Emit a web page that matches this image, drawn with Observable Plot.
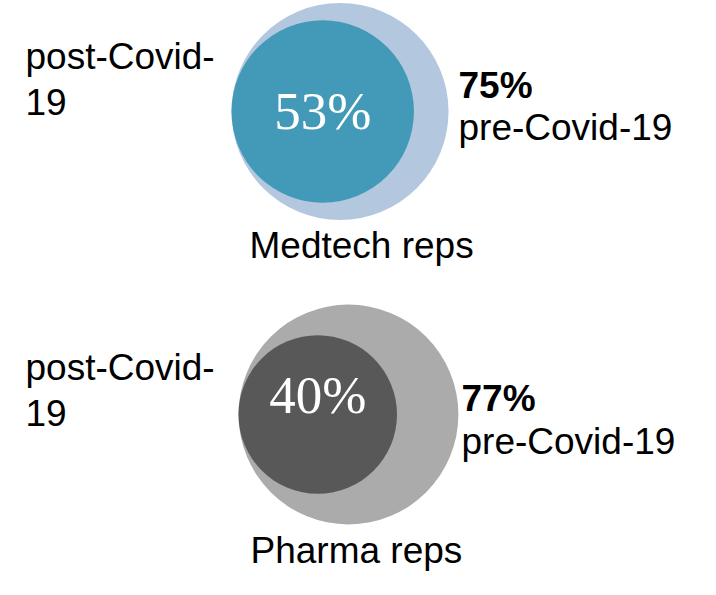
<!DOCTYPE html>
<html>
<head>
<meta charset="utf-8">
<script src="https://cdn.jsdelivr.net/npm/d3@7"></script>
<script src="https://cdn.jsdelivr.net/npm/@observablehq/plot@0.6"></script>
<style>
  html, body { margin: 0; padding: 0; background: #ffffff; }
  #chart svg { display: block; }
</style>
</head>
<body>
<div id="chart"></div>
<script>
// ---- data ----
const groups = ["Medtech reps", "Pharma reps"];
const preCovid = [75, 77];
const postCovid = [53, 40];
const preLabel = "pre-Covid-19";
const postLabel = "post-Covid-\n19";

// ---- styles ----
const outerColors = ["#b3c8df", "#ababab"];
const innerColors = ["#4399b8", "#585858"];
const sans = "Liberation Sans, Arial, Helvetica, sans-serif";
const serif = "Liberation Serif, Times New Roman, serif";
const labelSize = 37;

// ---- layout (pixels) ----
const W = 716, H = 595;
const leftEdge = [231, 238];      // shared left edge of nested circles
const rowCenter = [111, 414];     // vertical centre of each row
const postX = 25, postBaseline = [114, 425];
const sideX = [458, 461], pctBaseline = [97, 410], preBaseline = [139, 453];
const nameX = [249, 250], nameBaseline = [257, 562];
const innerTextOffset = [1, -18];

const rRange = [0, 125.3];
const rScale = Plot.scale({r: {type: "sqrt", domain: [0, 100], range: rRange}});

const circles = [];
groups.forEach((g, i) => {
  circles.push({row: i, group: g, kind: "pre", value: preCovid[i], fill: outerColors[i]});
  circles.push({row: i, group: g, kind: "post", value: postCovid[i], fill: innerColors[i]});
});
const cx = d => leftEdge[d.row] + rScale.apply(d.value);
const inner = circles.filter(d => d.kind === "post");

const chart = Plot.plot({
  width: W,
  height: H,
  margin: 0,
  style: {background: "#ffffff"},
  x: {type: "identity", axis: null},
  y: {type: "identity", axis: null},
  r: {type: "sqrt", domain: [0, 100], range: rRange},
  marks: [
    Plot.dot(circles, {
      x: cx,
      y: d => rowCenter[d.row],
      r: "value",
      fill: "fill",
      stroke: "none"
    }),
    Plot.text(inner, {
      x: cx,
      y: d => rowCenter[d.row] + innerTextOffset[d.row],
      text: d => d.value + "%",
      fill: "#ffffff",
      fontFamily: serif,
      fontSize: 53,
      textAnchor: "middle",
      lineAnchor: "middle"
    }),
    Plot.text(groups, {
      x: () => postX,
      y: (d, i) => postBaseline[i],
      text: () => postLabel,
      fill: "#000",
      fontFamily: sans,
      fontSize: labelSize,
      lineHeight: 1.22,
      textAnchor: "start",
      lineAnchor: "bottom"
    }),
    Plot.text(groups, {
      x: (d, i) => sideX[i],
      y: (d, i) => pctBaseline[i],
      text: (d, i) => preCovid[i] + "%",
      fill: "#000",
      fontFamily: sans,
      fontWeight: "bold",
      fontSize: labelSize,
      textAnchor: "start",
      lineAnchor: "bottom"
    }),
    Plot.text(groups, {
      x: (d, i) => sideX[i],
      y: (d, i) => preBaseline[i],
      text: () => preLabel,
      fill: "#000",
      fontFamily: sans,
      fontSize: labelSize,
      textAnchor: "start",
      lineAnchor: "bottom"
    }),
    Plot.text(groups, {
      x: (d, i) => nameX[i],
      y: (d, i) => nameBaseline[i],
      text: d => d,
      fill: "#000",
      fontFamily: sans,
      fontSize: labelSize,
      textAnchor: "start",
      lineAnchor: "bottom"
    })
  ]
});
document.getElementById("chart").appendChild(chart);
</script>
</body>
</html>
